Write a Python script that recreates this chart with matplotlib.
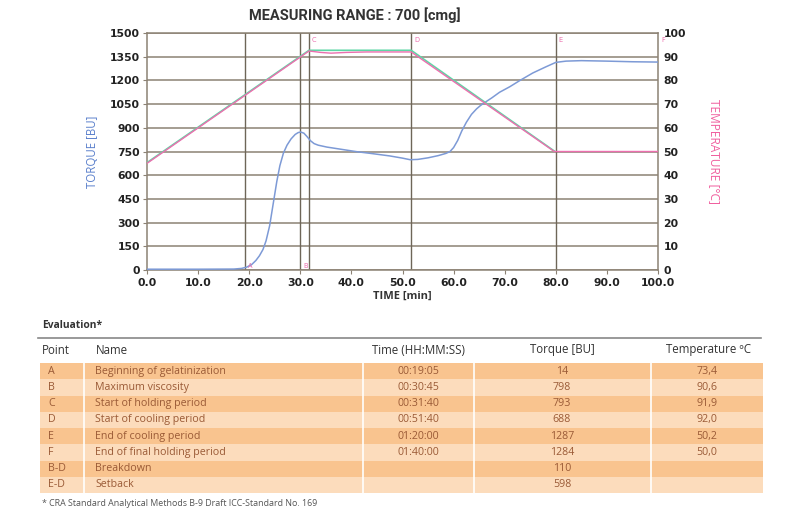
import numpy as np
import matplotlib
matplotlib.use("Agg")
import matplotlib.pyplot as plt
from matplotlib.patches import Rectangle

# ---- chart data ----
torque_t = [0, 10, 17, 18.5, 19.5, 20.5, 21.3, 22, 22.7, 23.3, 24, 24.7, 25.4, 26,
            26.7, 27.4, 28.2, 29, 29.6, 30.1, 30.7, 31.3, 32, 32.7, 33.5, 35.2,
            38, 41, 44, 47.5, 50, 51.5, 53, 55, 57, 58.5, 59.3, 60, 60.8, 61.6,
            62.5, 63.5, 64.5, 65.3, 66.1, 67.5, 69, 71, 73, 75.5, 78, 80, 82, 85,
            90, 95, 100]
torque_bu = [5, 5, 6, 10, 18, 35, 60, 90, 130, 185, 280, 420, 560, 660,
             740, 790, 830, 858, 870, 873, 866, 845, 818, 800, 790, 778,
             764, 749, 737, 722, 708, 698, 700, 710, 724, 738, 750, 775, 820, 880,
             935, 985, 1020, 1042, 1060, 1090, 1125, 1160, 1200, 1247, 1285, 1314, 1322,
             1325, 1322, 1318, 1316]

target_t = [0, 31.7, 51.7, 79.7]
target_c = [45.3, 92.7, 92.7, 50.2]

actual_t = [0, 31.7, 32.5, 34, 36, 39, 43, 47, 51.7, 79.7, 100]
actual_c = [45.0, 92.4, 92.2, 91.8, 91.5, 91.8, 92.0, 92.0, 92.0, 50.0, 50.0]

event_t = [19.1, 30.0, 31.7, 51.7, 80.0, 100.0]
event_lbl = ["A", "B", "C", "D", "E", "F"]
event_top = [False, False, True, True, True, True]

torque_ticks = [0, 150, 300, 450, 600, 750, 900, 1050, 1200, 1350, 1500]
temp_ticks = [0, 10, 20, 30, 40, 50, 60, 70, 80, 90, 100]
time_ticks = [0, 10, 20, 30, 40, 50, 60, 70, 80, 90, 100]

# ---- table data ----
tbl_header = ["Point", "Name", "Time (HH:MM:SS)", "Torque [BU]", "Temperature ºC"]
tbl_point = ["A", "B", "C", "D", "E", "F", "B-D", "E-D"]
tbl_name = ["Beginning of gelatinization", "Maximum viscosity", "Start of holding period",
            "Start of cooling period", "End of cooling period", "End of final holding period",
            "Breakdown", "Setback"]
tbl_time = ["00:19:05", "00:30:45", "00:31:40", "00:51:40", "01:20:00", "01:40:00", "", ""]
tbl_torque = ["14", "798", "793", "688", "1287", "1284", "110", "598"]
tbl_temp = ["73,4", "90,6", "91,9", "92,0", "50,2", "50,0", "", ""]

GRID = "#8c8274"
BLUE = "#7d9ad6"
PINK = "#ec6fae"
GREEN = "#5fd6a6"
TICKFONT = dict(family="DejaVu Sans", weight="bold", size=7.8, color="#222222")

W, H = 800, 517
fig = plt.figure(figsize=(W / 100, H / 100), dpi=100)

# ============================== chart =========================================
x0, x1, y0, y1 = 147, 658, 33, 270
ax = fig.add_axes([x0 / W, 1 - y1 / H, (x1 - x0) / W, (y1 - y0) / H])
ax.set_xlim(0, 100)
ax.set_ylim(0, 1500)
ax.set_yticks(torque_ticks)
ax.set_xticks(time_ticks)
ax.set_xticklabels([f"{v:.1f}" for v in time_ticks])
ax.grid(axis="y", color=GRID, lw=1.1)
for s in ax.spines.values():
    s.set_color(GRID); s.set_linewidth(1.1)
ax.tick_params(length=3, color=GRID, pad=2)
ax.tick_params(axis="x", pad=3)
for lab in ax.get_xticklabels() + ax.get_yticklabels():
    lab.set(**TICKFONT)
ax.set_axisbelow(True)

for t in event_t[:-1]:
    ax.axvline(t, color="#6e6658", lw=1.0, zorder=1)

ax.plot(torque_t, torque_bu, color=BLUE, lw=1.1, zorder=4)

ax2 = ax.twinx()
ax2.set_ylim(0, 100)
ax2.set_yticks(temp_ticks)
ax2.tick_params(length=0, pad=4)
for lab in ax2.get_yticklabels():
    lab.set(**TICKFONT)
for s in ax2.spines.values():
    s.set_visible(False)
ax2.plot(target_t, target_c, color=GREEN, lw=1.2, zorder=3)
ax2.plot(actual_t, actual_c, color=PINK, lw=1.0, zorder=4)

for t, lbl, top in zip(event_t, event_lbl, event_top):
    y = 97 if top else 1.5
    ax2.text(t + 0.6, y, lbl, color=PINK, fontsize=4.8, ha="left", va="center",
             clip_on=False)

ax.set_xlabel("TIME [min]", fontfamily="Open Sans", fontweight="bold", fontsize=8,
              color="#333333", labelpad=2)
ax.set_ylabel("TORQUE [BU]", fontfamily="Open Sans", fontsize=8.3, color="#5b80cc",
              labelpad=8)
ax2.set_ylabel("TEMPERATURE [°C]", fontfamily="Open Sans", fontsize=8.6, color="#f0609f",
               rotation=-90, labelpad=25)
fig.text(355 / W, 1 - 15 / H, "MEASURING RANGE : 700 [cmg]",
         ha="center", va="center", fontfamily="Roboto", fontweight="bold",
         fontsize=10.5, color="#333333")

# ============================== table =========================================
tb = fig.add_axes([0, 0, 1, 1], zorder=-1)
tb.set_xlim(0, W); tb.set_ylim(H, 0); tb.axis("off")

TXT = "#9a5a36"
ROW_DARK, ROW_LIGHT = "#f9c48f", "#fcdcbc"
tx0, tx1 = 40, 763
col_edges = [40, 84, 363, 474, 651, 763]
row_top, row_h = 363, 16.25

tb.text(42, 326, "Evaluation*", fontfamily="Open Sans", fontweight="bold", fontsize=7.4,
        color="#333333", va="center")
tb.plot([38, 761], [338, 338], color="#888888", lw=1.2)

hdr_y = 350
hk = dict(fontfamily="Open Sans", fontsize=8.3, color="#333333", va="center")
tb.text(42, hdr_y, tbl_header[0], **hk)
tb.text(96, hdr_y, tbl_header[1], **hk)
for j, c in zip([2, 3, 4], [418, 562, 708]):
    tb.text(c, hdr_y, tbl_header[j], ha="center", **hk)

for i in range(len(tbl_point)):
    y = row_top + i * row_h
    tb.add_patch(Rectangle((tx0, y), tx1 - tx0, row_h,
                           color=ROW_DARK if i % 2 == 0 else ROW_LIGHT, lw=0))
    yc = y + row_h / 2
    kw = dict(fontfamily="Open Sans", fontsize=7.7, color=TXT, va="center")
    tb.text(48, yc, tbl_point[i], **kw)
    tb.text(95, yc, tbl_name[i], **kw)
    tb.text(418, yc, tbl_time[i], ha="center", **kw)
    tb.text(562, yc, tbl_torque[i], ha="center", **kw)
    tb.text(707, yc, tbl_temp[i], ha="center", **kw)
row_bot = row_top + len(tbl_point) * row_h
for xe in col_edges[1:-1]:
    tb.plot([xe, xe], [row_top, row_bot], color="white", lw=1.2)

tb.text(42, 503, "* CRA Standard Analytical Methods B-9 Draft ICC-Standard No. 169",
        fontfamily="Open Sans", fontsize=6.4, color="#555555", va="center")

fig.savefig("out.png", dpi=100)
